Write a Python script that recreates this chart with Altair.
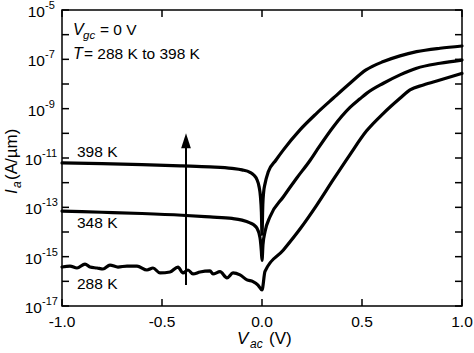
import altair as alt
import pandas as pd

FONT = "Liberation Sans"

# ---- data (V_ac in volts, log10 of I_a in A/um) ----
v398 = [-1.0, -0.8, -0.6, -0.4, -0.26, -0.15, -0.1, -0.06, -0.04, -0.025,
        -0.015, -0.008, -0.003, 0.0, 0.004, 0.008, 0.015, 0.032, 0.07, 0.107,
        0.19, 0.273, 0.357, 0.44, 0.52, 0.607, 0.69, 0.773, 0.89, 1.0]
l398 = [-11.20, -11.23, -11.27, -11.32, -11.36, -11.42, -11.48, -11.58, -11.70, -11.88,
        -12.15, -12.55, -13.2, -14.1, -12.9, -12.4, -12.05, -11.55, -11.08, -10.67,
        -9.86, -9.19, -8.57, -7.97, -7.43, -7.09, -6.86, -6.69, -6.55, -6.46]

v348 = [-1.0, -0.8, -0.6, -0.4, -0.26, -0.15, -0.1, -0.06, -0.04, -0.025,
        -0.015, -0.008, -0.003, 0.0, 0.005, 0.015, 0.04, 0.107, 0.173, 0.24,
        0.273, 0.357, 0.44, 0.49, 0.523, 0.607, 0.69, 0.773, 0.89, 1.0]
l348 = [-13.15, -13.2, -13.25, -13.32, -13.39, -13.45, -13.52, -13.63, -13.72, -13.85,
        -14.05, -14.35, -14.8, -15.15, -14.5, -13.99, -13.38, -12.57, -11.82, -11.1,
        -10.7, -9.73, -8.95, -8.6, -8.38, -7.97, -7.63, -7.36, -7.16, -7.03]

v288 = [-1.0, -0.96, -0.925, -0.885, -0.86, -0.825, -0.795, -0.76, -0.72, -0.675,
        -0.625, -0.575, -0.545, -0.51, -0.46, -0.42, -0.395, -0.37, -0.345, -0.31,
        -0.26, -0.245, -0.21, -0.175, -0.145, -0.11, -0.075, -0.045, -0.02, 0.0,
        0.015, 0.107, 0.19, 0.273, 0.357, 0.44, 0.523, 0.607, 0.69, 0.74,
        0.807, 0.89, 1.0]
l288 = [-15.42, -15.38, -15.46, -15.30, -15.42, -15.46, -15.50, -15.34, -15.42, -15.38,
        -15.38, -15.54, -15.46, -15.66, -15.62, -15.42, -15.66, -15.54, -15.70, -15.62,
        -15.58, -15.70, -15.61, -15.86, -15.66, -15.74, -15.94, -16.01, -16.15, -16.35,
        -15.6, -14.73, -13.88, -12.92, -11.87, -10.86, -9.9, -9.19, -8.58, -8.24,
        -8.04, -7.84, -7.57]

x_ticks = [-1.0, -0.5, 0.0, 0.5, 1.0]
x_tick_labels = ["-1.0", "-0.5", "0.0", "0.5", "1.0"]
y_decades = list(range(-17, -4))          # a tick at every decade
y_label_exps = [-5, -7, -9, -11, -13, -15, -17]

arrow_v = -0.38
arrow_from = -16.15
arrow_tip = -10.0

W, H = 400, 296


def curve(v, l, name):
    return pd.DataFrame({"V": v, "I": [10.0 ** e for e in l], "T": name,
                         "o": list(range(len(v)))})


curves = pd.concat([curve(v398, l398, "398 K"), curve(v348, l348, "348 K"),
                    curve(v288, l288, "288 K")], ignore_index=True)

xs = alt.Scale(domain=[-1, 1], nice=False, zero=False)
ys = alt.Scale(type="log", domain=[1e-17, 1e-5], nice=False)
X = lambda f: alt.X(f, scale=xs, axis=None)
Y = lambda f: alt.Y(f, scale=ys, axis=None)

lines = alt.Chart(curves).mark_line(color="black", strokeWidth=3.2, strokeJoin="round",
                                    strokeCap="round", interpolate="monotone").encode(
    x=X("V:Q"), y=Y("I:Q"), detail="T:N", order="o:Q")

ydf = pd.DataFrame({"I": [10.0 ** e for e in y_decades]})
xdf = pd.DataFrame({"V": x_ticks, "lab": x_tick_labels})
tick_style = dict(color="black", strokeWidth=1.5)

yt_left = alt.Chart(ydf).mark_rule(**tick_style).encode(
    y=Y("I:Q"), x=alt.value(0), x2=alt.value(7))
yt_right = alt.Chart(ydf).mark_rule(**tick_style).encode(
    y=Y("I:Q"), x=alt.value(W), x2=alt.value(W - 7))
xt_bot = alt.Chart(xdf).mark_rule(**tick_style).encode(
    x=X("V:Q"), y=alt.value(H), y2=alt.value(H - 7))
xt_top = alt.Chart(xdf).mark_rule(**tick_style).encode(
    x=X("V:Q"), y=alt.value(0), y2=alt.value(7))
x_labels = alt.Chart(xdf).mark_text(
    font=FONT, fontSize=15.5, align="center", baseline="top", color="black").encode(
    x=X("V:Q"), y=alt.value(H + 9), text="lab:N")

ylab = pd.DataFrame({"I": [10.0 ** e for e in y_label_exps],
                     "base": ["10"] * len(y_label_exps),
                     "exp": [str(e) for e in y_label_exps]})


def ylabels(filter_expr, xpos):
    b = alt.Chart(ylab).transform_filter(filter_expr).mark_text(
        font=FONT, fontSize=15.5, align="right", baseline="middle", dy=2, color="black"
    ).encode(y=Y("I:Q"), x=alt.value(xpos), text="base:N")
    e = alt.Chart(ylab).transform_filter(filter_expr).mark_text(
        font=FONT, fontSize=11, align="left", baseline="middle", dy=-4, color="black"
    ).encode(y=Y("I:Q"), x=alt.value(xpos), text="exp:N")
    return [b, e]


one = ylabels("length(datum.exp) == 2", -17)
two = ylabels("length(datum.exp) == 3", -20)

dummy = pd.DataFrame({"a": [0]})


def txt(s, x, y, size=15, italic=False, align="left", baseline="alphabetic", angle=0):
    kw = dict(text=s, font=FONT, fontSize=size, align=align, baseline=baseline,
              color="black")
    if italic:
        kw["fontStyle"] = "italic"
    if angle:
        kw["angle"] = angle
    return alt.Chart(dummy).mark_text(**kw).encode(x=alt.value(x), y=alt.value(y))


texts = [
    # annotation block
    txt("V", 11, 25, 16, italic=True),
    txt("gc", 21, 29, 11.5, italic=True),
    txt("= 0 V", 38, 25, 15.5),
    txt("T", 11, 49, 16, italic=True),
    txt("= 288 K to 398 K", 22, 49, 15.5),
    # curve labels
    txt("398 K", 15, 142, 15.5, baseline="middle"),
    txt("348 K", 15, 213, 15.5, baseline="middle"),
    txt("288 K", 15, 274, 15.5, baseline="middle"),
    # x title
    txt("V", 175, 334, 17, italic=True),
    txt("ac", 188, 338, 12, italic=True),
    txt("(V)", 207, 334, 17),
    # y title (rotated)
    txt("I", -45, 184, 17, italic=True, angle=270),
    txt("a", -41, 178, 12, italic=True, angle=270),
    txt("(A/µm)", -45, 170, 17, angle=270),
]

arrow_df = pd.DataFrame({"V": [arrow_v], "lo": [10.0 ** arrow_from],
                         "hi": [10.0 ** (arrow_tip - 0.45)],
                         "head": [10.0 ** (arrow_tip - 0.3)]})
arrow_shaft = alt.Chart(arrow_df).mark_rule(color="black", strokeWidth=2).encode(
    x=X("V:Q"), y=Y("lo:Q"), y2="hi:Q")
arrow_head = alt.Chart(arrow_df).mark_point(
    shape="M0,-1L0.65,1L-0.65,1Z", filled=True, size=225, color="black", opacity=1,
    strokeWidth=0).encode(x=X("V:Q"), y=Y("head:Q"))

chart = alt.layer(
    lines, yt_left, yt_right, xt_bot, xt_top, x_labels, *one, *two,
    arrow_shaft, arrow_head, *texts
).properties(
    width=W, height=H, autosize="none",
    padding={"left": 62, "top": 10, "right": 12, "bottom": 47},
    background="white",
).configure_view(stroke="black", strokeWidth=1.5)

chart.save("out.html", embed_options={"renderer": "svg", "actions": False})
